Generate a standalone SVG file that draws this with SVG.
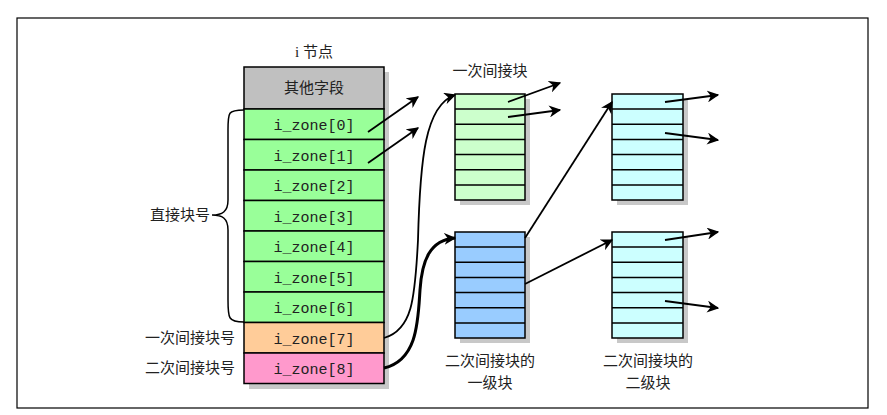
<svg xmlns="http://www.w3.org/2000/svg" width="887" height="415" viewBox="0 0 887 415">
<defs>
<marker id="ah" viewBox="0 0 10 10" refX="9" refY="5" markerWidth="7" markerHeight="7" markerUnits="userSpaceOnUse" orient="auto"><path d="M0,0 L10,5 L0,10 L3,5 z" fill="#000"/></marker>
<marker id="ah2" viewBox="0 0 10 10" refX="9" refY="5" markerWidth="12" markerHeight="12" markerUnits="userSpaceOnUse" orient="auto"><path d="M0,0 L10,5 L0,10 L3,5 z" fill="#000"/></marker>
</defs>
<style>
text{font-family:"Liberation Serif","Noto Sans CJK SC",serif;font-size:15px;fill:#222}
.m{font-family:"Liberation Mono","Noto Sans CJK SC",monospace;font-size:15px}
.c{stroke:#000;stroke-width:1.5}
.sh{fill:#c8c8c8}
.ln{stroke:#000;stroke-width:1.5;fill:none}
.ar{stroke:#000;stroke-width:1.8;fill:none;marker-end:url(#ah2)}
</style>
<rect x="17" y="18" width="851" height="390" fill="#fff" stroke="#000" stroke-width="1.2"/>
<g id="inode">
<text x="314" y="57" text-anchor="middle">i 节点</text>
<rect class="sh" x="249" y="72" width="140" height="317"/>
<rect class="c" x="244" y="67" width="140" height="42" fill="#c0c0c0"/>
<text x="314" y="93" text-anchor="middle">其他字段</text>
<g class="m" text-anchor="middle">
<rect class="c" x="244" y="109" width="140" height="30.5" fill="#99ff99"/><text class="m" x="314" y="130">i_zone[0]</text>
<rect class="c" x="244" y="139.5" width="140" height="30.5" fill="#99ff99"/><text class="m" x="314" y="160.5">i_zone[1]</text>
<rect class="c" x="244" y="170" width="140" height="30.5" fill="#99ff99"/><text class="m" x="314" y="191">i_zone[2]</text>
<rect class="c" x="244" y="200.5" width="140" height="30.5" fill="#99ff99"/><text class="m" x="314" y="221.5">i_zone[3]</text>
<rect class="c" x="244" y="231" width="140" height="30.5" fill="#99ff99"/><text class="m" x="314" y="252">i_zone[4]</text>
<rect class="c" x="244" y="261.5" width="140" height="30.5" fill="#99ff99"/><text class="m" x="314" y="282.5">i_zone[5]</text>
<rect class="c" x="244" y="292" width="140" height="30.5" fill="#99ff99"/><text class="m" x="314" y="313">i_zone[6]</text>
<rect class="c" x="244" y="322.5" width="140" height="30.5" fill="#ffcc99"/><text class="m" x="314" y="343.5">i_zone[7]</text>
<rect class="c" x="244" y="353" width="140" height="30.5" fill="#ff99cc"/><text class="m" x="314" y="374">i_zone[8]</text>
</g>
<path class="ln" d="M244,110 C228,110 228,112 228,130 L228,200 C228,212 222,215 212,215 C222,215 228,218 228,230 L228,300 C228,318 228,322 244,322"/>
<text x="180" y="220" text-anchor="middle">直接块号</text>
<text x="235" y="343" text-anchor="end">一次间接块号</text>
<text x="235" y="373" text-anchor="end">二次间接块号</text>
</g>
<g id="block1">
<text x="490" y="76" text-anchor="middle">一次间接块</text>
<rect class="sh" x="460" y="99" width="70" height="106"/>
<rect class="c" x="455" y="94" width="70" height="106" fill="#ccffcc"/>
<path class="ln" d="M455,109.1H525M455,124.3H525M455,139.4H525M455,154.6H525M455,169.7H525M455,184.9H525"/>
</g>
<g id="block2">
<rect class="sh" x="460" y="237" width="70" height="106"/>
<rect class="c" x="455" y="232" width="70" height="106" fill="#99ccff"/>
<path class="ln" d="M455,247.1H525M455,262.3H525M455,277.4H525M455,292.6H525M455,307.7H525M455,322.9H525"/>
<text x="490" y="366" text-anchor="middle">二次间接块的</text>
<text x="490" y="388" text-anchor="middle">一级块</text>
</g>
<g id="block3">
<rect class="sh" x="617" y="99" width="71" height="106"/>
<rect class="c" x="612" y="94" width="71" height="106" fill="#ccffff"/>
<path class="ln" d="M612,109.1H683M612,124.3H683M612,139.4H683M612,154.6H683M612,169.7H683M612,184.9H683"/>
</g>
<g id="block4">
<rect class="sh" x="617" y="237" width="71" height="106"/>
<rect class="c" x="612" y="232" width="71" height="106" fill="#ccffff"/>
<path class="ln" d="M612,247.1H683M612,262.3H683M612,277.4H683M612,292.6H683M612,307.7H683M612,322.9H683"/>
<text x="648" y="366" text-anchor="middle">二次间接块的</text>
<text x="648" y="388" text-anchor="middle">二级块</text>
</g>
<g id="connectors">
<path class="ar" d="M368,132 L418,97"/>
<path class="ar" d="M368,163 L418,128"/>
<path class="ar" d="M508,102 L560,83"/>
<path class="ar" d="M508,117 L560,110"/>
<path class="ar" d="M665,102 L718,95"/>
<path class="ar" d="M665,133 L718,140"/>
<path class="ar" d="M665,240 L718,232"/>
<path class="ar" d="M665,301 L718,308"/>
<path class="ar" d="M525,238 L612,102"/>
<path class="ar" d="M525,284 L612,240"/>
<path class="ar" d="M384,338 C412,330 415,300 418,240 C420,160 425,105 455,95"/>
<path d="M384,368 C418,360 418,320 420,290 C422,260 430,240 455,238" stroke="#000" stroke-width="3" fill="none" marker-end="url(#ah2)"/>
</g>
</svg>
